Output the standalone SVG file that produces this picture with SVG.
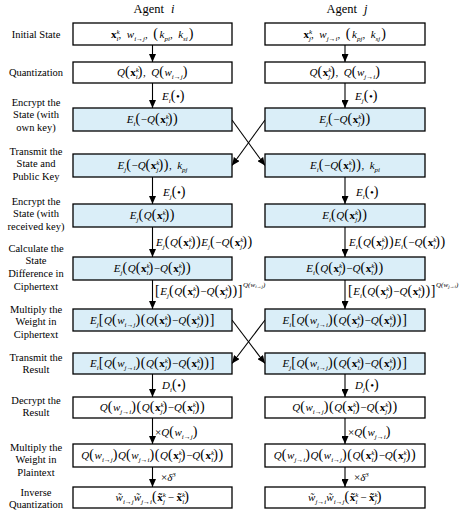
<svg xmlns="http://www.w3.org/2000/svg" width="474" height="513" viewBox="0 0 474 513">
<style>
.lb{font-family:"Liberation Serif","Times New Roman","DejaVu Serif",serif;font-size:10.5px;text-anchor:middle;fill:#000}
.hd{font-family:"Liberation Serif","Times New Roman","DejaVu Serif",serif;font-size:12.5px;text-anchor:middle;fill:#000}
.m{font-family:"Liberation Serif","Times New Roman","DejaVu Serif",serif;font-size:11px;fill:#000}
.c{text-anchor:middle}
.i{font-style:italic}
.n{font-style:normal}
.b{font-weight:bold;font-style:normal}
.s{font-size:7px;font-style:italic;baseline-shift:-2.6px}
.u{font-size:7px;font-style:italic;baseline-shift:4.2px}
.s2{font-size:5px;font-style:italic;baseline-shift:-1.6px}
.p{font-size:14px;font-style:normal;letter-spacing:0.6px}
.bx{stroke:#000;stroke-width:1.3}
.w{fill:#fff}
.bl{fill:#DAEEF8}
.ar{stroke:#000;stroke-width:1.1;fill:none;marker-end:url(#ah)}
</style>
<defs>
<marker id="ah" markerUnits="userSpaceOnUse" markerWidth="8" markerHeight="7" refX="8" refY="3.5" orient="auto">
<path d="M0,0 L8,3.5 L0,7 z" fill="#000"/>
</marker>
</defs>
<rect width="474" height="513" fill="#fff"/>

<g id="headers">
<text class="hd" x="154" y="13">Agent <tspan class="i" dx="4">i</tspan></text>
<text class="hd" x="347" y="13">Agent <tspan class="i" dx="4">j</tspan></text>
</g>

<g id="step-labels">
<text class="lb" x="36" y="38">Initial State</text>
<text class="lb" x="36" y="76">Quantization</text>
<text class="lb" x="36" y="105.5">Encrypt the<tspan x="36" dy="12.5">State (with</tspan><tspan x="36" dy="12.5">own key)</tspan></text>
<text class="lb" x="36" y="154.5">Transmit the<tspan x="36" dy="12.5">State and</tspan><tspan x="36" dy="12.5">Public Key</tspan></text>
<text class="lb" x="36" y="204.5">Encrypt the<tspan x="36" dy="12.5">State (with</tspan><tspan x="36" dy="12.5">received key)</tspan></text>
<text class="lb" x="36" y="251.5">Calculate the<tspan x="36" dy="12.7">State</tspan><tspan x="36" dy="12.7">Difference in</tspan><tspan x="36" dy="12.7">Ciphertext</tspan></text>
<text class="lb" x="36" y="312.5">Multiply the<tspan x="36" dy="12.5">Weight in</tspan><tspan x="36" dy="12.5">Ciphertext</tspan></text>
<text class="lb" x="36" y="360.5">Transmit the<tspan x="36" dy="12">Result</tspan></text>
<text class="lb" x="36" y="403.5">Decrypt the<tspan x="36" dy="12">Result</tspan></text>
<text class="lb" x="36" y="450.5">Multiply the<tspan x="36" dy="12.8">Weight in</tspan><tspan x="36" dy="12.8">Plaintext</tspan></text>
<text class="lb" x="36" y="495.5">Inverse<tspan x="36" dy="12">Quantization</tspan></text>
</g>

<g id="connectors">
<line class="ar" x1="152.5" y1="45" x2="152.5" y2="62"/>
<line class="ar" x1="345" y1="45" x2="345" y2="62"/>
<line class="ar" x1="152.5" y1="83" x2="152.5" y2="108"/>
<line class="ar" x1="345" y1="83" x2="345" y2="108"/>
<line class="ar" x1="232" y1="120" x2="265" y2="165.5"/>
<line class="ar" x1="265" y1="120" x2="232" y2="165.5"/>
<line class="ar" x1="152.5" y1="177" x2="152.5" y2="204"/>
<line class="ar" x1="345" y1="177" x2="345" y2="204"/>
<line class="ar" x1="152.5" y1="227" x2="152.5" y2="257"/>
<line class="ar" x1="345" y1="227" x2="345" y2="257"/>
<line class="ar" x1="152.5" y1="280" x2="152.5" y2="309"/>
<line class="ar" x1="345" y1="280" x2="345" y2="309"/>
<line class="ar" x1="232" y1="320" x2="265" y2="363.5"/>
<line class="ar" x1="265" y1="320" x2="232" y2="363.5"/>
<line class="ar" x1="152.5" y1="374" x2="152.5" y2="397"/>
<line class="ar" x1="345" y1="374" x2="345" y2="397"/>
<line class="ar" x1="152.5" y1="418" x2="152.5" y2="444"/>
<line class="ar" x1="345" y1="418" x2="345" y2="444"/>
<line class="ar" x1="152.5" y1="467" x2="152.5" y2="487"/>
<line class="ar" x1="345" y1="467" x2="345" y2="487"/>

<text class="m" x="162" y="100"><tspan class="i">E</tspan><tspan class="s">i</tspan><tspan class="p">(</tspan>•<tspan class="p">)</tspan></text>
<text class="m" x="355" y="100"><tspan class="i">E</tspan><tspan class="s">j</tspan><tspan class="p">(</tspan>•<tspan class="p">)</tspan></text>
<text class="m" x="163" y="196"><tspan class="i">E</tspan><tspan class="s">j</tspan><tspan class="p">(</tspan>•<tspan class="p">)</tspan></text>
<text class="m" x="356" y="196"><tspan class="i">E</tspan><tspan class="s">i</tspan><tspan class="p">(</tspan>•<tspan class="p">)</tspan></text>
<text class="m" x="156" y="246"><tspan class="i">E</tspan><tspan class="s">j</tspan><tspan class="p">(</tspan><tspan class="i">Q</tspan><tspan class="p">(</tspan><tspan class="b">x</tspan><tspan class="u">k</tspan><tspan class="s" dx="-3">i</tspan><tspan class="p">)</tspan><tspan class="p">)</tspan><tspan class="i">E</tspan><tspan class="s">j</tspan><tspan class="p">(</tspan>−<tspan class="i">Q</tspan><tspan class="p">(</tspan><tspan class="b">x</tspan><tspan class="u">k</tspan><tspan class="s" dx="-3">j</tspan><tspan class="p">)</tspan><tspan class="p">)</tspan></text>
<text class="m" x="349" y="246"><tspan class="i">E</tspan><tspan class="s">i</tspan><tspan class="p">(</tspan><tspan class="i">Q</tspan><tspan class="p">(</tspan><tspan class="b">x</tspan><tspan class="u">k</tspan><tspan class="s" dx="-3">j</tspan><tspan class="p">)</tspan><tspan class="p">)</tspan><tspan class="i">E</tspan><tspan class="s">i</tspan><tspan class="p">(</tspan>−<tspan class="i">Q</tspan><tspan class="p">(</tspan><tspan class="b">x</tspan><tspan class="u">k</tspan><tspan class="s" dx="-3">i</tspan><tspan class="p">)</tspan><tspan class="p">)</tspan></text>
<text class="m" x="155" y="295"><tspan class="p">[</tspan><tspan class="i">E</tspan><tspan class="s">j</tspan><tspan class="p">(</tspan><tspan class="i">Q</tspan><tspan class="p">(</tspan><tspan class="b">x</tspan><tspan class="u">k</tspan><tspan class="s" dx="-3">i</tspan><tspan class="p">)</tspan>−<tspan class="i">Q</tspan><tspan class="p">(</tspan><tspan class="b">x</tspan><tspan class="u">k</tspan><tspan class="s" dx="-3">j</tspan><tspan class="p">)</tspan><tspan class="p">)</tspan><tspan class="p">]</tspan><tspan class="u" style="baseline-shift:8.5px">Q(w<tspan class="s2">i<tspan class="n">→</tspan>j</tspan>)</tspan></text>
<text class="m" x="348" y="295"><tspan class="p">[</tspan><tspan class="i">E</tspan><tspan class="s">i</tspan><tspan class="p">(</tspan><tspan class="i">Q</tspan><tspan class="p">(</tspan><tspan class="b">x</tspan><tspan class="u">k</tspan><tspan class="s" dx="-3">j</tspan><tspan class="p">)</tspan>−<tspan class="i">Q</tspan><tspan class="p">(</tspan><tspan class="b">x</tspan><tspan class="u">k</tspan><tspan class="s" dx="-3">i</tspan><tspan class="p">)</tspan><tspan class="p">)</tspan><tspan class="p">]</tspan><tspan class="u" style="baseline-shift:8.5px">Q(w<tspan class="s2">j<tspan class="n">→</tspan>i</tspan>)</tspan></text>
<text class="m" x="162" y="389"><tspan class="i">D</tspan><tspan class="s">i</tspan><tspan class="p">(</tspan>•<tspan class="p">)</tspan></text>
<text class="m" x="355" y="389"><tspan class="i">D</tspan><tspan class="s">j</tspan><tspan class="p">(</tspan>•<tspan class="p">)</tspan></text>
<text class="m" x="155" y="436">×<tspan class="i">Q</tspan><tspan class="p">(</tspan><tspan class="i">w</tspan><tspan class="s">i<tspan class="n">→</tspan>j</tspan><tspan class="p">)</tspan></text>
<text class="m" x="348" y="436">×<tspan class="i">Q</tspan><tspan class="p">(</tspan><tspan class="i">w</tspan><tspan class="s">j<tspan class="n">→</tspan>i</tspan><tspan class="p">)</tspan></text>
<text class="m" x="161" y="481">×<tspan class="i">δ</tspan><tspan class="u n">3</tspan></text>
<text class="m" x="354" y="481">×<tspan class="i">δ</tspan><tspan class="u n">3</tspan></text>
</g>

<g id="node-i-initial">
<rect class="bx w" x="73" y="23" width="159" height="22"/>
<text class="m c" x="152.5" y="37.5"><tspan class="b">x</tspan><tspan class="u">k</tspan><tspan class="s" dx="-3">i</tspan>,&#8194;<tspan class="i">w</tspan><tspan class="s">i<tspan class="n">→</tspan>j</tspan>,&#8194;<tspan class="p">(</tspan><tspan class="i" dx="1">k</tspan><tspan class="s">pi</tspan>,&#8194;<tspan class="i">k</tspan><tspan class="s">si</tspan><tspan class="p" dx="1">)</tspan></text>
</g>
<g id="node-j-initial">
<rect class="bx w" x="265" y="23" width="160" height="22"/>
<text class="m c" x="345" y="37.5"><tspan class="b">x</tspan><tspan class="u">k</tspan><tspan class="s" dx="-3">j</tspan>,&#8194;<tspan class="i">w</tspan><tspan class="s">j<tspan class="n">→</tspan>i</tspan>,&#8194;<tspan class="p">(</tspan><tspan class="i" dx="1">k</tspan><tspan class="s">pj</tspan>,&#8194;<tspan class="i">k</tspan><tspan class="s">sj</tspan><tspan class="p" dx="1">)</tspan></text>
</g>

<g id="node-i-quant">
<rect class="bx w" x="73" y="62" width="159" height="21"/>
<text class="m c" x="152.5" y="76"><tspan class="i">Q</tspan><tspan class="p">(</tspan><tspan class="b">x</tspan><tspan class="u">k</tspan><tspan class="s" dx="-3">i</tspan><tspan class="p">)</tspan>,&#8194;<tspan class="i">Q</tspan><tspan class="p">(</tspan><tspan class="i">w</tspan><tspan class="s">i<tspan class="n">→</tspan>j</tspan><tspan class="p">)</tspan></text>
</g>
<g id="node-j-quant">
<rect class="bx w" x="265" y="62" width="160" height="21"/>
<text class="m c" x="345" y="76"><tspan class="i">Q</tspan><tspan class="p">(</tspan><tspan class="b">x</tspan><tspan class="u">k</tspan><tspan class="s" dx="-3">j</tspan><tspan class="p">)</tspan>,&#8194;<tspan class="i">Q</tspan><tspan class="p">(</tspan><tspan class="i">w</tspan><tspan class="s">j<tspan class="n">→</tspan>i</tspan><tspan class="p">)</tspan></text>
</g>

<g id="node-i-encrypt-own">
<rect class="bx bl" x="73" y="108" width="159" height="23"/>
<text class="m c" x="152.5" y="123"><tspan class="i">E</tspan><tspan class="s">i</tspan><tspan class="p">(</tspan>−<tspan class="i">Q</tspan><tspan class="p">(</tspan><tspan class="b">x</tspan><tspan class="u">k</tspan><tspan class="s" dx="-3">i</tspan><tspan class="p">)</tspan><tspan class="p">)</tspan></text>
</g>
<g id="node-j-encrypt-own">
<rect class="bx bl" x="265" y="108" width="160" height="23"/>
<text class="m c" x="345" y="123"><tspan class="i">E</tspan><tspan class="s">j</tspan><tspan class="p">(</tspan>−<tspan class="i">Q</tspan><tspan class="p">(</tspan><tspan class="b">x</tspan><tspan class="u">k</tspan><tspan class="s" dx="-3">j</tspan><tspan class="p">)</tspan><tspan class="p">)</tspan></text>
</g>

<g id="node-i-transmit-state">
<rect class="bx bl" x="73" y="154" width="159" height="23"/>
<text class="m c" x="152.5" y="169"><tspan class="i">E</tspan><tspan class="s">j</tspan><tspan class="p">(</tspan>−<tspan class="i">Q</tspan><tspan class="p">(</tspan><tspan class="b">x</tspan><tspan class="u">k</tspan><tspan class="s" dx="-3">j</tspan><tspan class="p">)</tspan><tspan class="p">)</tspan>,&#8194;<tspan class="i">k</tspan><tspan class="s">pj</tspan></text>
</g>
<g id="node-j-transmit-state">
<rect class="bx bl" x="265" y="154" width="160" height="23"/>
<text class="m c" x="345" y="169"><tspan class="i">E</tspan><tspan class="s">i</tspan><tspan class="p">(</tspan>−<tspan class="i">Q</tspan><tspan class="p">(</tspan><tspan class="b">x</tspan><tspan class="u">k</tspan><tspan class="s" dx="-3">i</tspan><tspan class="p">)</tspan><tspan class="p">)</tspan>,&#8194;<tspan class="i">k</tspan><tspan class="s">pi</tspan></text>
</g>

<g id="node-i-encrypt-received">
<rect class="bx bl" x="73" y="204" width="159" height="23"/>
<text class="m c" x="152.5" y="219"><tspan class="i">E</tspan><tspan class="s">j</tspan><tspan class="p">(</tspan><tspan class="i">Q</tspan><tspan class="p">(</tspan><tspan class="b">x</tspan><tspan class="u">k</tspan><tspan class="s" dx="-3">i</tspan><tspan class="p">)</tspan><tspan class="p">)</tspan></text>
</g>
<g id="node-j-encrypt-received">
<rect class="bx bl" x="265" y="204" width="160" height="23"/>
<text class="m c" x="345" y="219"><tspan class="i">E</tspan><tspan class="s">i</tspan><tspan class="p">(</tspan><tspan class="i">Q</tspan><tspan class="p">(</tspan><tspan class="b">x</tspan><tspan class="u">k</tspan><tspan class="s" dx="-3">j</tspan><tspan class="p">)</tspan><tspan class="p">)</tspan></text>
</g>

<g id="node-i-difference">
<rect class="bx bl" x="73" y="257" width="159" height="23"/>
<text class="m c" x="152.5" y="272"><tspan class="i">E</tspan><tspan class="s">j</tspan><tspan class="p">(</tspan><tspan class="i">Q</tspan><tspan class="p">(</tspan><tspan class="b">x</tspan><tspan class="u">k</tspan><tspan class="s" dx="-3">i</tspan><tspan class="p">)</tspan>−<tspan class="i">Q</tspan><tspan class="p">(</tspan><tspan class="b">x</tspan><tspan class="u">k</tspan><tspan class="s" dx="-3">j</tspan><tspan class="p">)</tspan><tspan class="p">)</tspan></text>
</g>
<g id="node-j-difference">
<rect class="bx bl" x="265" y="257" width="160" height="23"/>
<text class="m c" x="345" y="272"><tspan class="i">E</tspan><tspan class="s">i</tspan><tspan class="p">(</tspan><tspan class="i">Q</tspan><tspan class="p">(</tspan><tspan class="b">x</tspan><tspan class="u">k</tspan><tspan class="s" dx="-3">j</tspan><tspan class="p">)</tspan>−<tspan class="i">Q</tspan><tspan class="p">(</tspan><tspan class="b">x</tspan><tspan class="u">k</tspan><tspan class="s" dx="-3">i</tspan><tspan class="p">)</tspan><tspan class="p">)</tspan></text>
</g>

<g id="node-i-multiply-cipher">
<rect class="bx bl" x="73" y="309" width="159" height="22"/>
<text class="m c" x="152.5" y="323.5"><tspan class="i">E</tspan><tspan class="s">j</tspan><tspan class="p">[</tspan><tspan class="i">Q</tspan><tspan class="p">(</tspan><tspan class="i">w</tspan><tspan class="s">i<tspan class="n">→</tspan>j</tspan><tspan class="p">)</tspan><tspan class="p">(</tspan><tspan class="i">Q</tspan><tspan class="p">(</tspan><tspan class="b">x</tspan><tspan class="u">k</tspan><tspan class="s" dx="-3">i</tspan><tspan class="p">)</tspan>−<tspan class="i">Q</tspan><tspan class="p">(</tspan><tspan class="b">x</tspan><tspan class="u">k</tspan><tspan class="s" dx="-3">j</tspan><tspan class="p">)</tspan><tspan class="p">)</tspan><tspan class="p">]</tspan></text>
</g>
<g id="node-j-multiply-cipher">
<rect class="bx bl" x="265" y="309" width="160" height="22"/>
<text class="m c" x="345" y="323.5"><tspan class="i">E</tspan><tspan class="s">i</tspan><tspan class="p">[</tspan><tspan class="i">Q</tspan><tspan class="p">(</tspan><tspan class="i">w</tspan><tspan class="s">j<tspan class="n">→</tspan>i</tspan><tspan class="p">)</tspan><tspan class="p">(</tspan><tspan class="i">Q</tspan><tspan class="p">(</tspan><tspan class="b">x</tspan><tspan class="u">k</tspan><tspan class="s" dx="-3">j</tspan><tspan class="p">)</tspan>−<tspan class="i">Q</tspan><tspan class="p">(</tspan><tspan class="b">x</tspan><tspan class="u">k</tspan><tspan class="s" dx="-3">i</tspan><tspan class="p">)</tspan><tspan class="p">)</tspan><tspan class="p">]</tspan></text>
</g>

<g id="node-i-transmit-result">
<rect class="bx bl" x="73" y="353" width="159" height="21"/>
<text class="m c" x="152.5" y="367"><tspan class="i">E</tspan><tspan class="s">i</tspan><tspan class="p">[</tspan><tspan class="i">Q</tspan><tspan class="p">(</tspan><tspan class="i">w</tspan><tspan class="s">j<tspan class="n">→</tspan>i</tspan><tspan class="p">)</tspan><tspan class="p">(</tspan><tspan class="i">Q</tspan><tspan class="p">(</tspan><tspan class="b">x</tspan><tspan class="u">k</tspan><tspan class="s" dx="-3">j</tspan><tspan class="p">)</tspan>−<tspan class="i">Q</tspan><tspan class="p">(</tspan><tspan class="b">x</tspan><tspan class="u">k</tspan><tspan class="s" dx="-3">i</tspan><tspan class="p">)</tspan><tspan class="p">)</tspan><tspan class="p">]</tspan></text>
</g>
<g id="node-j-transmit-result">
<rect class="bx bl" x="265" y="353" width="160" height="21"/>
<text class="m c" x="345" y="367"><tspan class="i">E</tspan><tspan class="s">j</tspan><tspan class="p">[</tspan><tspan class="i">Q</tspan><tspan class="p">(</tspan><tspan class="i">w</tspan><tspan class="s">i<tspan class="n">→</tspan>j</tspan><tspan class="p">)</tspan><tspan class="p">(</tspan><tspan class="i">Q</tspan><tspan class="p">(</tspan><tspan class="b">x</tspan><tspan class="u">k</tspan><tspan class="s" dx="-3">i</tspan><tspan class="p">)</tspan>−<tspan class="i">Q</tspan><tspan class="p">(</tspan><tspan class="b">x</tspan><tspan class="u">k</tspan><tspan class="s" dx="-3">j</tspan><tspan class="p">)</tspan><tspan class="p">)</tspan><tspan class="p">]</tspan></text>
</g>

<g id="node-i-decrypt">
<rect class="bx w" x="73" y="397" width="159" height="21"/>
<text class="m c" x="152.5" y="411"><tspan class="i">Q</tspan><tspan class="p">(</tspan><tspan class="i">w</tspan><tspan class="s">j<tspan class="n">→</tspan>i</tspan><tspan class="p">)</tspan><tspan class="p">(</tspan><tspan class="i">Q</tspan><tspan class="p">(</tspan><tspan class="b">x</tspan><tspan class="u">k</tspan><tspan class="s" dx="-3">j</tspan><tspan class="p">)</tspan>−<tspan class="i">Q</tspan><tspan class="p">(</tspan><tspan class="b">x</tspan><tspan class="u">k</tspan><tspan class="s" dx="-3">i</tspan><tspan class="p">)</tspan><tspan class="p">)</tspan></text>
</g>
<g id="node-j-decrypt">
<rect class="bx w" x="265" y="397" width="160" height="21"/>
<text class="m c" x="345" y="411"><tspan class="i">Q</tspan><tspan class="p">(</tspan><tspan class="i">w</tspan><tspan class="s">i<tspan class="n">→</tspan>j</tspan><tspan class="p">)</tspan><tspan class="p">(</tspan><tspan class="i">Q</tspan><tspan class="p">(</tspan><tspan class="b">x</tspan><tspan class="u">k</tspan><tspan class="s" dx="-3">i</tspan><tspan class="p">)</tspan>−<tspan class="i">Q</tspan><tspan class="p">(</tspan><tspan class="b">x</tspan><tspan class="u">k</tspan><tspan class="s" dx="-3">j</tspan><tspan class="p">)</tspan><tspan class="p">)</tspan></text>
</g>

<g id="node-i-multiply-plain">
<rect class="bx w" x="73" y="444" width="159" height="23"/>
<text class="m c" x="152.5" y="459"><tspan class="i">Q</tspan><tspan class="p">(</tspan><tspan class="i">w</tspan><tspan class="s">i<tspan class="n">→</tspan>j</tspan><tspan class="p">)</tspan><tspan class="i">Q</tspan><tspan class="p">(</tspan><tspan class="i">w</tspan><tspan class="s">j<tspan class="n">→</tspan>i</tspan><tspan class="p">)</tspan><tspan class="p">(</tspan><tspan class="i">Q</tspan><tspan class="p">(</tspan><tspan class="b">x</tspan><tspan class="u">k</tspan><tspan class="s" dx="-3">j</tspan><tspan class="p">)</tspan>−<tspan class="i">Q</tspan><tspan class="p">(</tspan><tspan class="b">x</tspan><tspan class="u">k</tspan><tspan class="s" dx="-3">i</tspan><tspan class="p">)</tspan><tspan class="p">)</tspan></text>
</g>
<g id="node-j-multiply-plain">
<rect class="bx w" x="265" y="444" width="160" height="23"/>
<text class="m c" x="345" y="459"><tspan class="i">Q</tspan><tspan class="p">(</tspan><tspan class="i">w</tspan><tspan class="s">j<tspan class="n">→</tspan>i</tspan><tspan class="p">)</tspan><tspan class="i">Q</tspan><tspan class="p">(</tspan><tspan class="i">w</tspan><tspan class="s">i<tspan class="n">→</tspan>j</tspan><tspan class="p">)</tspan><tspan class="p">(</tspan><tspan class="i">Q</tspan><tspan class="p">(</tspan><tspan class="b">x</tspan><tspan class="u">k</tspan><tspan class="s" dx="-3">i</tspan><tspan class="p">)</tspan>−<tspan class="i">Q</tspan><tspan class="p">(</tspan><tspan class="b">x</tspan><tspan class="u">k</tspan><tspan class="s" dx="-3">j</tspan><tspan class="p">)</tspan><tspan class="p">)</tspan></text>
</g>

<g id="node-i-inverse">
<rect class="bx w" x="73" y="487" width="159" height="21"/>
<text class="m c" x="152.5" y="501"><tspan class="i">w̃</tspan><tspan class="s">i<tspan class="n">→</tspan>j</tspan><tspan class="i">w̃</tspan><tspan class="s">j<tspan class="n">→</tspan>i</tspan><tspan class="p">(</tspan><tspan class="b">x̃</tspan><tspan class="u">k</tspan><tspan class="s" dx="-3">j</tspan> − <tspan class="b">x̃</tspan><tspan class="u">k</tspan><tspan class="s" dx="-3">i</tspan><tspan class="p">)</tspan></text>
</g>
<g id="node-j-inverse">
<rect class="bx w" x="265" y="487" width="160" height="21"/>
<text class="m c" x="345" y="501"><tspan class="i">w̃</tspan><tspan class="s">j<tspan class="n">→</tspan>i</tspan><tspan class="i">w̃</tspan><tspan class="s">i<tspan class="n">→</tspan>j</tspan><tspan class="p">(</tspan><tspan class="b">x̃</tspan><tspan class="u">k</tspan><tspan class="s" dx="-3">i</tspan> − <tspan class="b">x̃</tspan><tspan class="u">k</tspan><tspan class="s" dx="-3">j</tspan><tspan class="p">)</tspan></text>
</g>
</svg>
